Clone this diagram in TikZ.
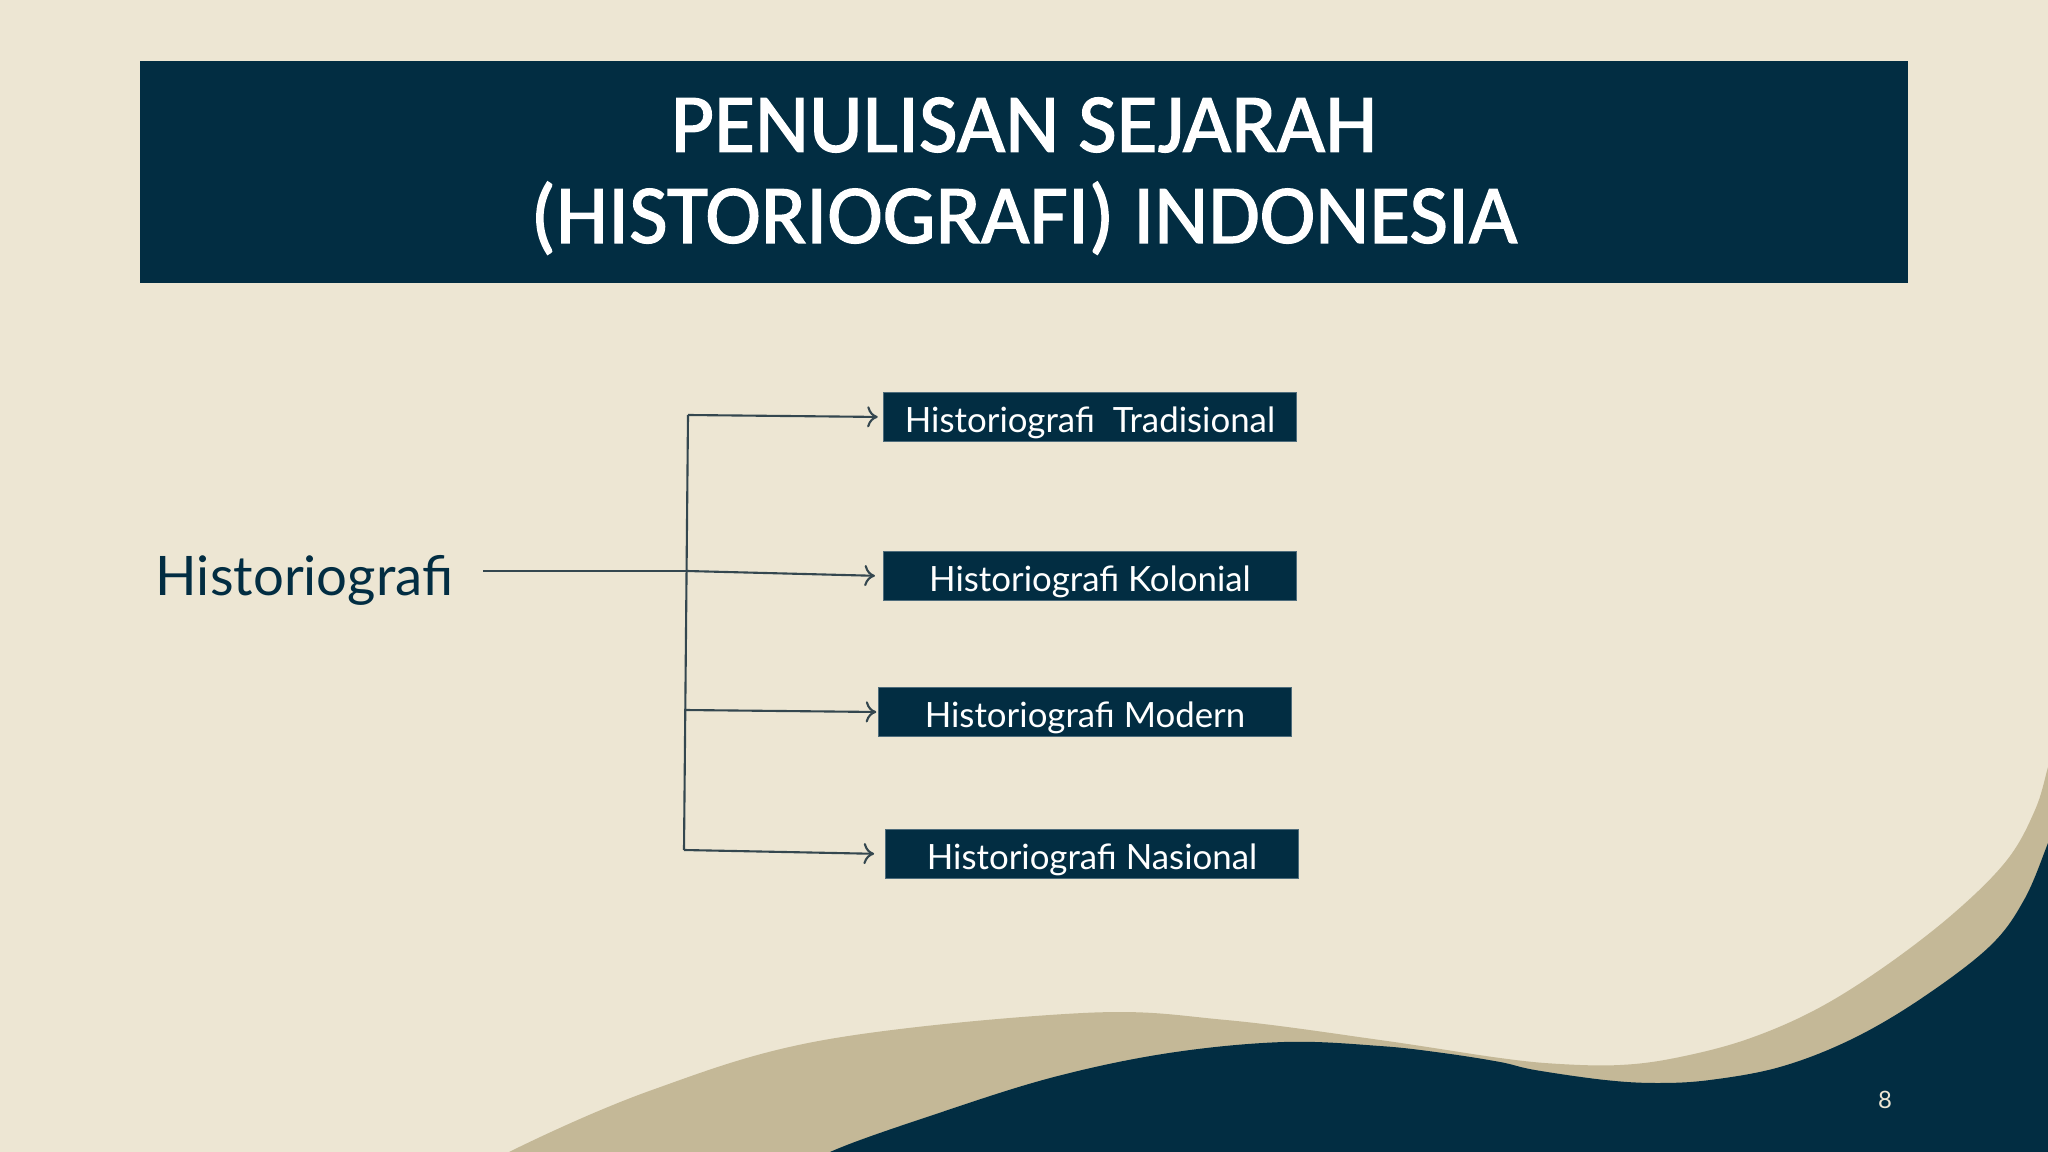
\documentclass[tikz,border=0pt]{standalone}
\usepackage{fontspec}
\setmainfont{Lato}
\newfontfamily\titlefont[FakeBold=1.5]{Carlito}
\usepackage{tikz}
\usetikzlibrary{arrows.meta}
\usetikzlibrary{positioning}
\definecolor{navy}{HTML}{022D42}
\definecolor{cream}{HTML}{EDE6D3}
\definecolor{sand}{HTML}{C4B897}
\definecolor{wire}{HTML}{34474F}
\tikzset{
    heading/.style={
           rectangle,
           fill=navy,
           text=white,
           minimum width=17.66cm,
           minimum height=2.22cm,
           align=center,
           text depth=1pt,
           font=\titlefont\fontsize{23.8}{25.9}\selectfont,
           },
}
\tikzset{
    kind/.style={
           rectangle,
           fill=navy,
           draw=navy!70!white, thin,
           text=white,
           minimum width=4.13cm,
           minimum height=0.49cm,
           inner sep=0pt,
           text height=10.7pt,
           text depth=2.1pt,
           text centered,
           font=\fontsize{9.9}{12}\selectfont,
           },
}
\tikzset{
    link/.style={
           draw=wire, line width=0.6pt,
           },
}

\begin{document}
\begin{tikzpicture}[x=0.01cm, y=-0.01cm]
\useasboundingbox (0,0) rectangle (2048,1152);
\clip (0,0) rectangle (2048,1152);
\fill[cream] (0,0) rectangle (2048,1152);
\fill[sand] plot[smooth, tension=0.6] coordinates {(470,1180) (509,1152) (652,1090) (824,1040) (1083,1013) (1226,1020) (1380,1040) (1500,1058) (1560,1064) (1620,1065) (1675,1058) (1745,1040) (1815,1010) (1884,967) (1954,913) (2007,860) (2035,810) (2048,767) (2055,740)} -- (2062,1180) -- cycle;
\fill[navy] plot[smooth, tension=0.6] coordinates {(790,1180) (830,1152) (939,1113) (1054,1077) (1169,1053) (1284,1042) (1380,1046) (1443,1053) (1500,1062) (1535,1070) (1605,1080) (1657,1083) (1710,1080) (1780,1067) (1850,1040) (1919,1000) (1989,947) (2024,900) (2048,843) (2060,810)} -- (2068,1180) -- cycle;

\node[heading] (title) at (1024,172) {PENULISAN SEJARAH\\(HISTORIOGRAFI) INDONESIA};

\node[anchor=base west, inner sep=0pt, text=navy, font=\fontsize{15.5}{18}\selectfont] (hist) at (155,596) {Historiografi};

\node[kind] (trad) at (1090,417) {Historiografi~~Tradisional};
\node[kind] (kol) at (1090,576) {Historiografi Kolonial};
\node[kind] (mod) at (1085,712) {Historiografi Modern};
\node[kind] (nas) at (1092,854) {Historiografi Nasional};

\coordinate (hstart) at (483,571);
\coordinate (junc) at (687,571);
\coordinate (vtop) at (688,415);
\coordinate (vmid) at (685,710);
\coordinate (vbot) at (684,850);

\draw[link] (hstart) -- (junc);
\draw[link] (vtop) -- (vbot);
\draw[link, -{To[length=3pt, width=6pt]}, shorten >=1.4pt] (vtop) -- (trad.west);
\draw[link, -{To[length=3pt, width=6pt]}, shorten >=2.2pt] (junc) -- (kol.west);
\draw[link, -{To[length=3pt, width=6pt]}, shorten >=0.4pt] (vmid) -- (mod.west);
\draw[link, -{To[length=3pt, width=6pt]}, shorten >=3pt] (vbot) -- (nas.west);

\node[text=cream, font=\fontsize{6.8}{8}\selectfont] (page) at (1885,1100) {8};
\end{tikzpicture}
\end{document}
